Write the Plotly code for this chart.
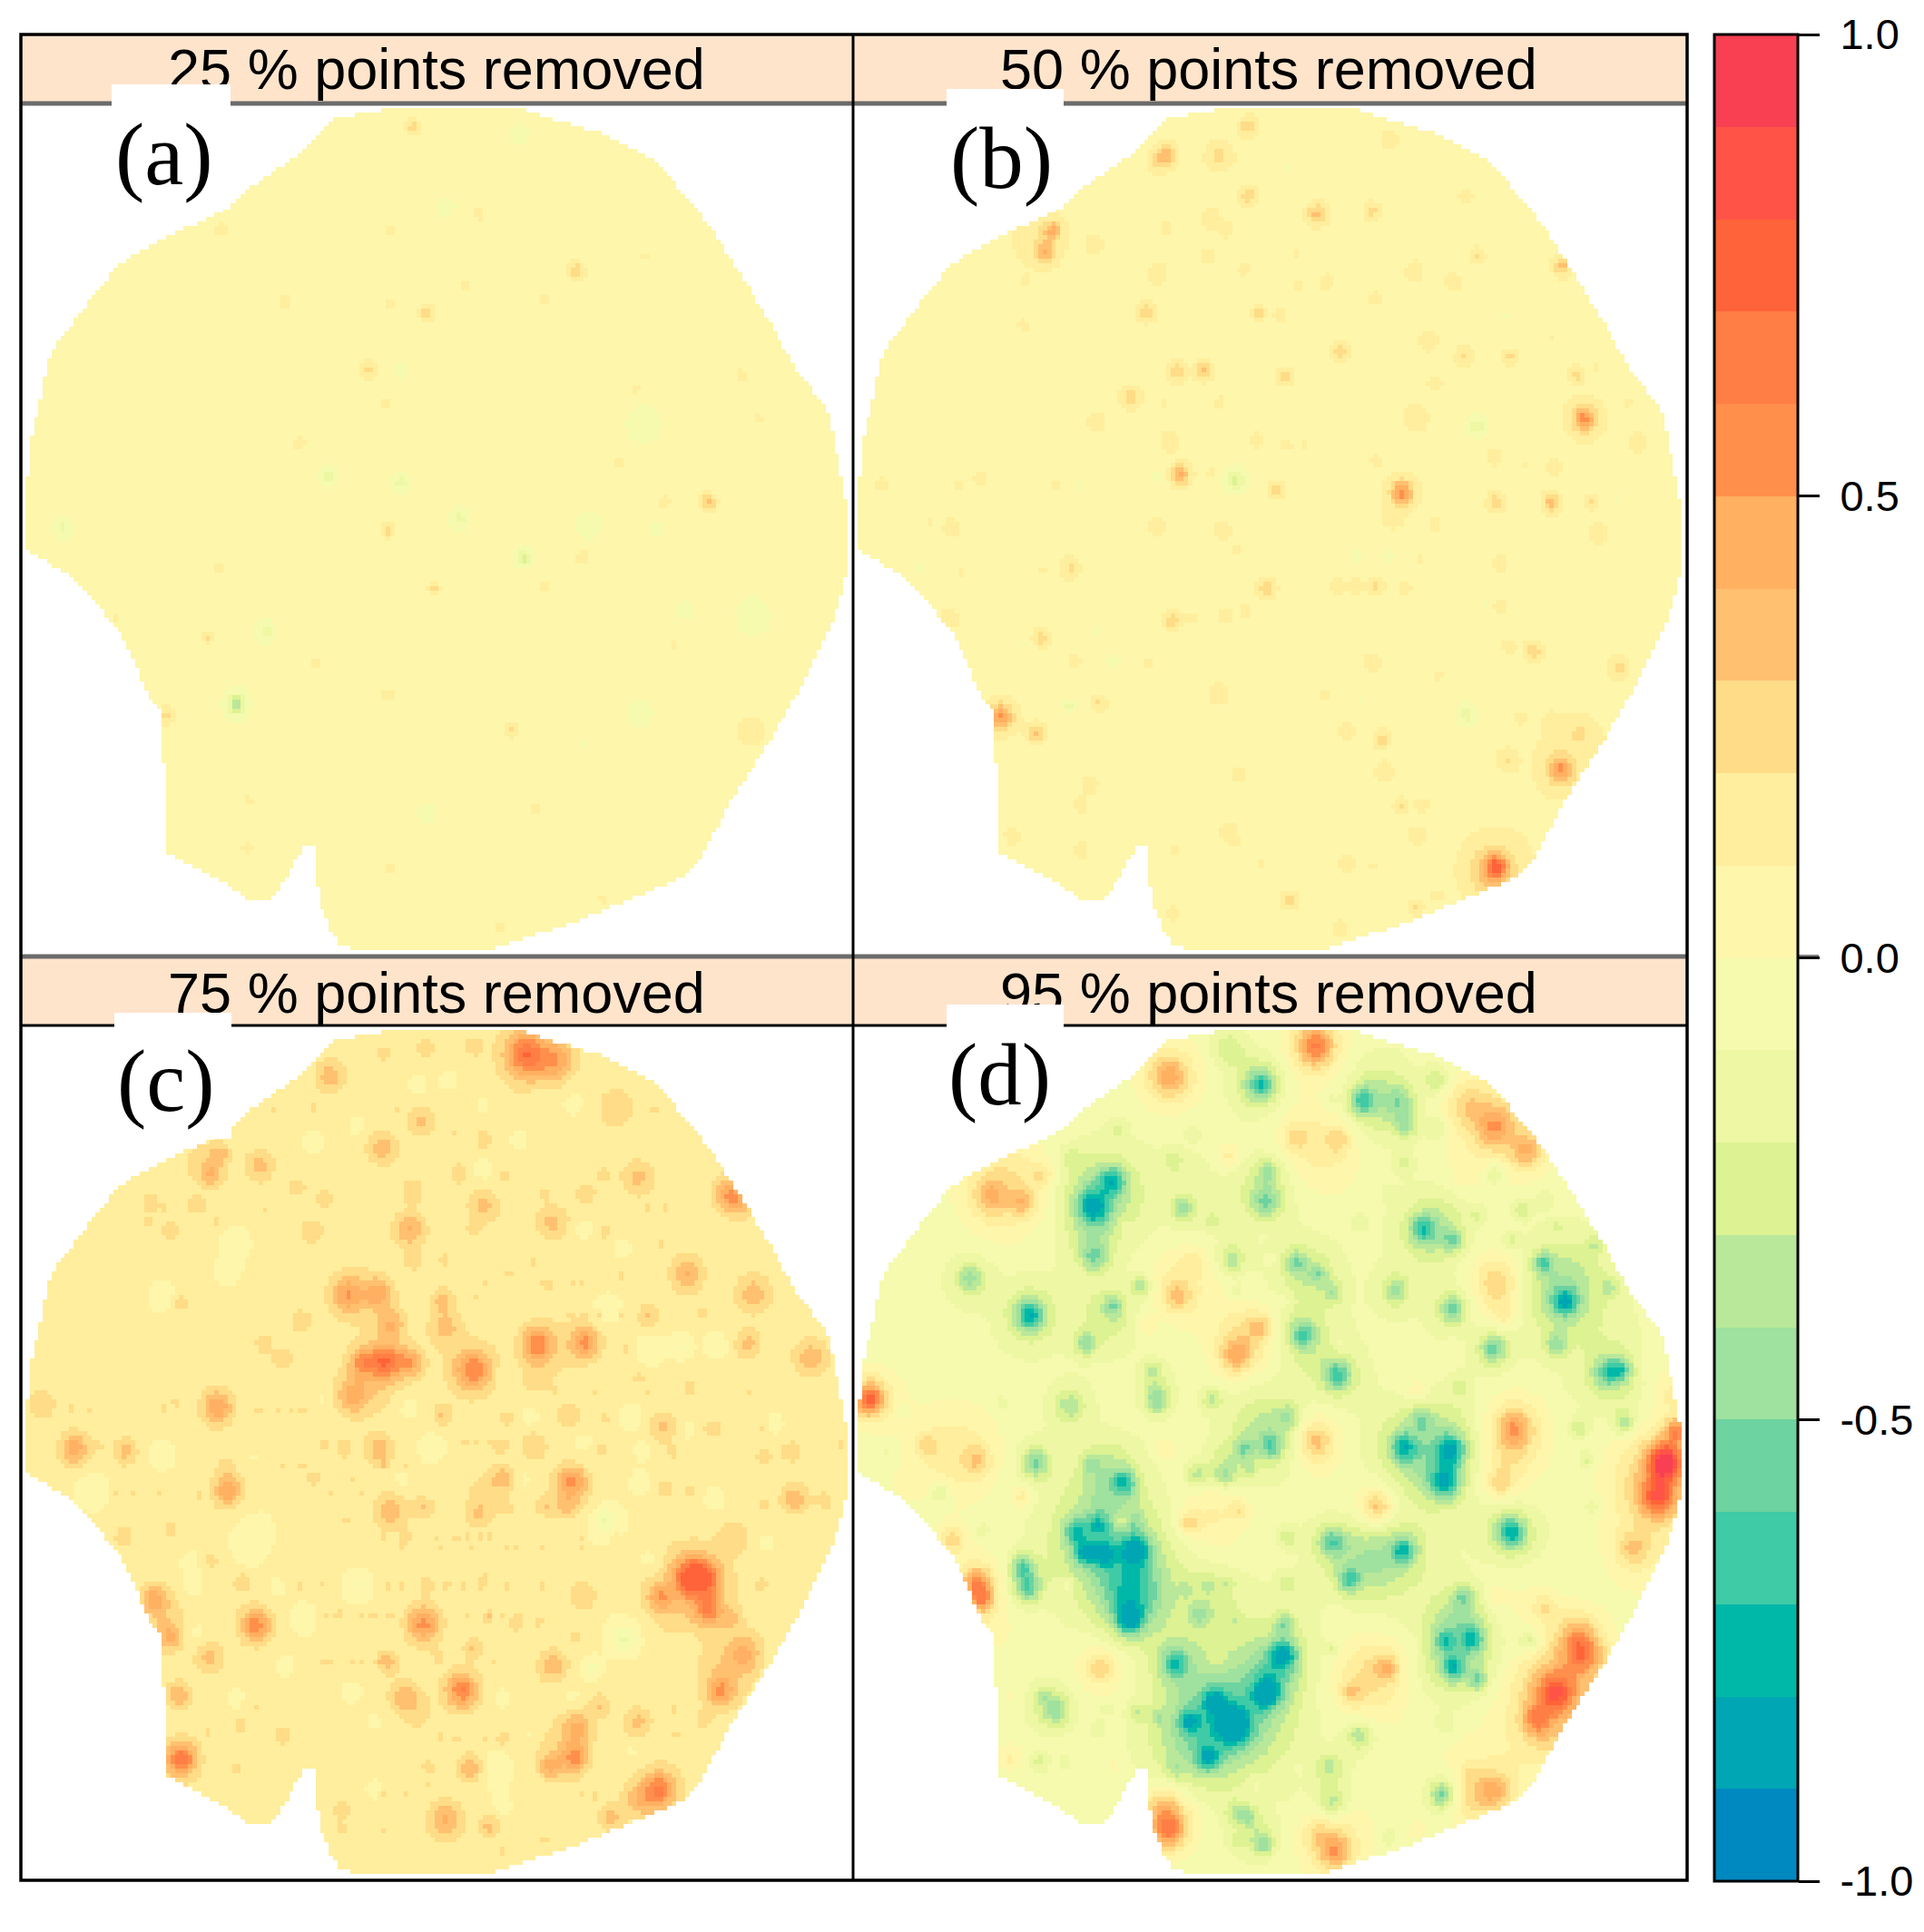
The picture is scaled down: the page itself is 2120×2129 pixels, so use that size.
import numpy as np
import plotly.graph_objects as go

# Colour key: 20 classes of 0.1 from -1.0 to 1.0 (bottom to top)
LEVEL_COLOURS = ["#0088C0", "#00A6B3", "#00B8A8", "#3FCBA5", "#6DD3A0", "#9FE19F", "#B9E89A", "#DDF292", "#EEF7A3", "#F5FAAE",
                 "#FDF6AB", "#FFEE9D", "#FFDC87", "#FFC070", "#FFB060", "#FF8F4B", "#FF7E45", "#FF6339", "#FF5348", "#F84052"]
TICK_VALUES = [-1.0, -0.5, 0.0, 0.5, 1.0]
TICK_LABELS = ["-1.0", "-0.5", "0.0", "0.5", "1.0"]
PANEL_TITLES = ["25 % points removed", "50 % points removed", "75 % points removed", "95 % points removed"]
PANEL_TAGS = ["(a)", "(b)", "(c)", "(d)"]

# Study-area outline
OUTLINE = [(790,147),(945,147),(1000,165),(1100,190),(1190,235),(1270,315),(1340,410),(1400,500),(1450,580),(1505,645),
           (1525,730),(1545,830),(1545,900),(1520,980),(1470,1080),(1400,1190),(1330,1290),(1270,1390),(1240,1415),
           (1150,1450),(1040,1490),(890,1535),(710,1538),(620,1530),(600,1500),(580,1450),(570,1365),(555,1360),
           (530,1400),(495,1450),(450,1450),(400,1420),(305,1375),(305,1300),(295,1200),(290,1140),(270,1120),
           (245,1060),(210,1000),(165,955),(130,920),(50,875),(42,820),(58,690),(75,620),(92,550),(150,480),(215,405),
           (290,365),(400,320),(470,270),(540,225),(610,165),(700,150)]

# Anomalies: (x, y, value, spread)
BASE_A = 0.05
SPOTS_A = [(752,178,.3,7),(402,348,.12,8),(712,350,.15,5),(1048,415,.3,9),(775,485,.3,8),(518,467,.2,6),(712,470,.15,5),
 (845,440,.15,5),(670,580,.25,9),(702,633,.2,5),(1155,612,.2,5),(1348,588,.2,6),(1380,660,.15,5),(1125,733,.2,6),
 (1288,798,.42,8),(1208,798,.15,7),(705,843,.3,7),(1060,888,.2,7),(790,938,.35,6),(990,935,.15,6),(378,1020,.22,6),
 (705,1115,.2,6),(930,1173,.25,7),(302,1150,.25,9),(1365,1175,.22,14),(972,1303,.18,6),(450,1365,.15,6),(912,1495,.2,5),
 (1095,1450,.15,5),(452,1290,.2,4),(575,1060,.15,6),(210,990,.15,5),(870,322,.12,8),(1175,390,.15,4),(990,462,.12,5),
 (545,700,.15,7),(400,905,.15,6),(1225,1033,.15,5),(712,1400,.12,6),
 (953,887,-.4,6),(953,887,-.07,20),(430,1130,-.5,8),(430,1130,-.1,22),(483,1010,-.25,6),(483,1010,-.07,22),(115,840,-.2,5),
 (115,840,-.07,20),(835,825,-.18,8),(835,825,-.07,18),(595,755,-.2,7),(595,755,-.07,16),(730,765,-.18,8),(730,765,-.07,16),
 (1070,835,-.12,15),(1195,840,-.12,10),(1370,985,-.1,25),(1170,670,-.1,25),(730,580,-.07,16),(810,310,-.07,18),
 (945,190,-.08,16),(885,260,-.07,14),(650,225,-.06,14),(1165,1145,-.08,22),(1060,1195,-.08,14),(775,1310,-.07,18),
 (1245,975,-.07,18),(1305,600,-.07,14),(620,635,-.07,12),(445,770,-.06,14),(1225,1215,-.07,14),(860,940,-.06,14)]

BASE_B = 0.055
SPOTS_B = [(378,350,.4,8),(365,385,.35,8),(355,365,.12,30),(575,232,.35,10),(590,222,.25,8),(680,227,.25,12),(733,178,.3,8),
 (733,292,.3,8),(857,323,.38,9),(958,318,.28,7),(665,330,.2,8),(692,348,.2,6),(585,347,.12,6),(455,373,.15,8),(990,200,.18,8),
 (1128,292,.2,6),(1150,390,.25,6),(1303,407,.4,8),(1035,415,.18,8),(1105,435,.15,8),(875,433,.2,6),(825,440,.12,5),(965,462,.2,5),
 (570,420,.2,8),(725,412,.12,6),(660,390,.12,8),(820,387,.12,4),(548,483,.32,8),(752,485,.25,6),(790,487,.2,5),(325,505,.15,5),
 (327,433,.12,5),(900,548,.3,8),(1060,532,.2,8),(1125,557,.22,8),(1208,557,.22,7),(1285,527,.12,4),(604,582,.32,8),(652,580,.38,8),
 (800,590,.25,7),(1072,600,.15,7),(1330,587,.25,7),(1365,575,.12,4),(520,625,.3,9),(580,632,.15,4),(682,632,.15,5),(1038,658,.15,12),
 (458,665,.2,8),(1343,660,.5,9),(1343,660,.15,22),(1422,632,.15,4),(1440,697,.2,8),(590,697,.2,8),(748,695,.2,6),(803,703,.15,5),
 (835,705,.12,4),(965,730,.12,6),(1180,723,.2,7),(1288,740,.2,6),(1235,735,.1,4),(610,752,.5,9),(665,750,.15,4),(783,778,.3,7),
 (1012,782,.55,9),(1012,782,.12,20),(1183,798,.3,8),(1283,798,.45,8),(1358,798,.22,6),(1368,850,.18,8),(68,768,.15,6),(205,770,.12,5),
 (247,760,.15,6),(385,770,.15,6),(195,840,.2,7),(155,830,.12,4),(568,838,.2,6),(687,843,.15,8),(995,825,.12,10),(1072,835,.12,7),
 (410,905,.22,9),(360,910,.12,4),(212,910,.12,4),(712,873,.12,5),(1190,898,.2,6),(767,938,.35,8),(897,935,.22,6),(965,935,.25,7),
 (930,935,.12,8),(1018,938,.12,7),(1045,890,.1,4),(595,992,.3,8),(630,988,.15,5),(692,985,.2,6),(727,978,.18,5),(357,1020,.3,7),
 (190,990,.15,9),(418,1058,.18,5),(552,1060,.1,6),(1190,967,.15,6),(958,1060,.15,8),(1207,1035,.2,6),(1250,1042,.3,8),(1078,1082,.15,4),
 (1405,1070,.25,9),(680,1112,.18,9),(870,1115,.15,5),(462,1128,.22,7),(285,1150,.42,9),(285,1150,.15,20),(348,1178,.35,8),(912,1175,.15,8),
 (975,1188,.3,7),(1225,1153,.15,5),(1285,1160,.15,6),(1333,1178,.22,7),(1203,1223,.2,9),(1300,1238,.4,9),(1300,1238,.15,22),(715,1245,.15,7),
 (980,1240,.15,9),(445,1262,.2,7),(430,1295,.12,8),(305,1347,.15,7),(430,1370,.1,10),(1010,1298,.25,6),(1048,1298,.22,6),(1040,1347,.22,7),
 (697,1340,.18,8),(712,1358,.15,4),(912,1392,.15,7),(960,1395,.1,5),(1183,1398,.7,9),(1175,1405,.25,28),(808,1452,.28,7),(1037,1465,.22,7),
 (1075,1445,.15,5),(900,1500,.12,9),(595,1475,.12,7),(755,1390,.1,5),(600,1370,.1,4),(1330,1200,.06,60),(1200,1395,.05,50),
 (710,762,-.3,9),(710,762,-.06,18),(568,755,-.18,6),(1148,672,-.25,7),(1148,672,-.05,18),(928,885,-.18,6),(988,887,-.15,5),
 (1130,1147,-.22,8),(1130,1147,-.05,18),(408,1132,-.25,6),(488,1060,-.22,6),(138,905,-.15,6),(460,1008,-.15,4),(325,1027,-.12,4),
 (1405,795,-.15,4),(805,245,-.12,5),(455,522,-.08,5),(1200,490,-.1,4),(430,770,-.1,6),(808,825,-.08,5),(940,1122,-.1,5),(1165,965,-.1,5),(670,463,-.08,4)]

BASE_C = 0.13
SPOTS_C = [(955,182,.55,14),(1010,192,.4,14),(965,185,.2,35),(600,218,.22,16),(1120,270,.25,14),(700,180,.15,8),(775,172,.2,8),(860,168,.15,9),
 (400,345,.3,8),(385,380,.3,9),(370,360,.12,22),(472,365,.3,12),(765,292,.3,11),(695,335,.35,12),(880,322,.2,8),(828,310,.12,6),(1160,385,.3,13),
 (1100,380,.15,7),(835,378,.22,8),(918,378,.15,7),(1325,410,.5,12),(1345,430,.3,10),(750,405,.25,9),(540,400,.2,8),(590,420,.2,8),(275,425,.2,8),
 (358,430,.2,8),(395,455,.15,6),(310,470,.22,7),(270,460,.15,6),(880,430,.3,13),(1065,410,.18,10),(990,410,.12,6),(1005,458,.3,13),(745,470,.4,13),
 (568,473,.25,9),(860,468,.15,6),(1100,475,.15,7),(1200,495,.12,6),(350,495,.12,5),(752,520,.22,8),(808,520,.15,6),(1250,543,.4,13),(1130,548,.15,6),
 (970,525,.15,6),(925,543,.15,5),(990,560,.12,6),(1370,575,.35,14),(630,576,.42,13),(690,574,.42,11),(655,578,.12,28),(805,585,.3,9),(865,580,.12,5),
 (330,590,.2,7),(1180,612,.28,9),(1280,605,.12,5),(548,620,.22,9),(712,625,.35,11),(810,630,.3,13),(480,658,.2,8),(515,683,.25,8),(975,658,.4,16),
 (1065,655,.38,15),(1010,660,.1,30),(1360,658,.3,11),(1475,680,.35,14),(1140,665,.15,6),(700,685,.65,12),(660,688,.45,10),(745,688,.45,10),
 (700,695,.12,35),(860,700,.5,14),(860,700,.12,32),(640,745,.35,12),(660,730,.1,30),(975,715,.15,14),(1162,713,.18,6),(1205,720,.1,5),(1255,730,.15,7),
 (395,762,.4,11),(395,762,.1,22),(75,757,.2,13),(320,755,.12,7),(805,775,.25,8),(925,780,.2,6),(1035,775,.25,9),(1100,780,.15,6),(1205,795,.3,11),
 (1295,798,.25,7),(1385,795,.15,5),(135,830,.35,10),(135,830,.1,20),(228,835,.3,10),(180,825,.1,6),(625,830,.2,7),(590,830,.12,5),(690,832,.32,12),
 (910,825,.15,7),(970,825,.25,11),(1095,830,.2,6),(1440,835,.22,8),(1390,845,.15,9),(1530,825,.12,6),(1225,835,.15,6),(410,860,.15,7),(415,898,.4,10),
 (415,900,.1,22),(570,878,.22,6),(640,878,.12,4),(915,878,.32,9),(885,900,.1,24),(1040,882,.42,11),(1040,900,.15,26),(1210,895,.18,8),(1255,900,.18,6),
 (1445,912,.35,11),(1500,915,.15,9),(710,932,.35,13),(770,928,.25,9),(870,938,.22,11),(920,928,.15,6),(990,925,.2,7),(1030,925,.2,8),(1390,925,.15,6),
 (310,962,.18,7),(225,975,.15,11),(520,945,.12,4),(630,950,.12,6),(740,975,.12,7),(1335,975,.2,13),(1260,1040,.6,18),(1290,1045,.35,12),(1200,1075,.4,10),
 (1290,1095,.5,11),(1255,1065,.2,45),(1330,1110,.2,8),(1385,1055,.15,6),(385,1015,.2,7),(280,1078,.45,11),(310,1140,.35,10),(300,1110,.12,24),
 (440,1050,.2,8),(465,1120,.5,11),(465,1120,.1,22),(775,1055,.2,6),(880,1045,.15,6),(1060,1073,.22,12),(820,1050,.1,4),(770,1118,.45,12),(770,1118,.1,24),
 (620,1103,.15,5),(885,1108,.15,5),(940,1115,.2,7),(980,1115,.15,5),(680,1103,.1,4),(860,1158,.25,8),(380,1172,.3,12),(1045,1138,.15,6),(705,1180,.3,9),
 (600,1180,.12,5),(795,1168,.12,5),(1005,1187,.35,12),(1130,1190,.12,6),(1355,1165,.35,14),(1310,1230,.45,11),(1320,1200,.15,30),(325,1235,.4,10),
 (840,1227,.55,12),(840,1227,.1,24),(735,1237,.35,12),(760,1265,.1,18),(1090,1252,.25,9),(1160,1280,.3,11),(1225,1258,.12,5),(465,1255,.15,6),
 (437,1285,.18,6),(515,1303,.22,7),(380,1298,.12,5),(1050,1290,.4,12),(1280,1275,.2,7),(1230,1300,.15,5),(915,1307,.2,6),(330,1340,.6,11),(325,1345,.15,24),
 (1045,1340,.5,11),(1000,1352,.4,9),(1020,1320,.1,30),(855,1355,.4,10),(780,1355,.2,6),(430,1355,.12,9),(1200,1390,.55,12),(1165,1405,.3,12),(1195,1395,.1,35),
 (622,1423,.2,7),(810,1440,.42,14),(890,1450,.3,9),(1110,1437,.3,10),(1055,1400,.1,6),(620,1455,.15,6),(700,1460,.12,5),(915,1490,.15,5),(990,1470,.12,6),(780,1385,.1,6),
 (430,490,-.1,14),(415,540,-.08,14),(295,580,-.08,16),(1060,468,-.12,8),(880,375,-.06,16),(1240,662,-.2,9),(1180,665,-.08,18),(1310,660,-.08,12),(785,828,-.12,12),
 (965,780,-.1,10),(1165,885,-.2,8),(1170,835,-.1,8),(1100,945,-.25,9),(1100,950,-.08,24),(1300,915,-.08,14),(1390,985,-.08,10),(1135,1140,-.25,10),(1135,1140,-.08,24),
 (1075,1190,-.22,8),(355,1135,-.12,10),(520,1187,-.15,7),(550,1110,-.1,14),(460,970,-.08,25),(165,900,-.06,18),(295,840,-.08,15),(960,1300,-.1,6),(680,1280,-.1,6),
 (905,1355,-.1,14),(740,760,-.08,16),(1060,825,-.08,13),(1040,260,-.06,16),(880,260,-.06,14),(570,325,-.07,12),(650,1060,-.1,14),(1190,1020,-.07,12),(1100,600,-.07,14),
 (590,750,-.1,6),(1150,780,-.08,14),(350,1020,-.07,14),(910,1420,-.08,12),(430,1240,-.06,14),(1250,1150,-.08,12),
 (760,232,-.09,9),(815,225,-.09,9),(945,320,-.09,9),(975,260,-.09,9),(650,300,-.09,8),(1130,500,-.09,9),(1110,600,-.09,9),(920,710,-.09,10),(1300,660,-.09,8),
 (1410,790,-.09,9),(1250,800,-.09,8),(950,880,-.09,9),(730,880,-.09,8),(460,850,-.09,7),(170,900,-.1,12),(450,1000,-.1,10),(350,1060,-.08,9),(505,1060,-.1,8),
 (650,1050,-.1,9),(1180,1010,-.1,9),(900,1360,-.1,10),(910,1240,-.09,9),(1040,1240,-.08,10),(1150,1330,-.09,9),(640,1230,-.09,10),(680,1390,-.08,9)]

# Fine rows of faint dots in panel (c): (y, x positions)
ROW_DOTS_C = [(765,[130,165,230,300,470,503,528,550]),(822,[590,846,869,896,919]),(855,[460,515,550,700,740]),(905,[210,240,290,360,600,660]),
              (976,[698,743,795,830,850,875,891,1060,1120]),(991,[730,800,860,920,940,987,1060]),(1056,[545,583,704,731,813,841,875,924,985]),
              (1105,[590,610,655,676,710,853,888,912]),(1180,[590,640,660,690,800,900]),(1305,[800,830,880,950]),(610,[1040,1060,1090,1130,1280]),
              (735,[1010,1080,1180,1310,1360]),(560,[880,1000,1040,1060]),(435,[300,480,1180,1210]),(270,[500,570,720,1190]),(1400,[700,740,1080,1300])]

BASE_D = -0.06
SPOTS_D = [(758,232,-.6,10),(750,230,-.25,26),(697,172,-.3,12),(938,258,-.6,9),(1010,260,-.35,10),(880,257,-.15,7),(970,258,-.25,28),(1020,298,-.4,8),(1075,303,-.25,8),
 (1075,225,-.3,9),(1015,360,-.2,7),(1180,378,-.3,8),(770,372,-.35,8),(765,425,-.4,10),(768,400,-.15,24),(598,357,-.25,7),(630,310,-.15,5),(497,305,-.2,7),(410,350,-.2,7),
 (488,388,-.6,9),(452,432,-.65,11),(465,410,-.3,34),(453,515,-.45,10),(450,480,-.15,24),(615,435,-.45,9),(670,457,-.22,6),(703,520,-.4,9),(712,570,-.2,5),(228,550,-.35,8),
 (228,550,-.15,24),(337,610,-.65,9),(337,610,-.25,26),(540,562,-.45,7),(488,596,-.4,7),(437,657,-.5,8),(480,610,-.2,32),(820,525,-.4,8),(860,543,-.3,6),(888,573,-.35,7),
 (845,540,-.2,28),(1000,570,-.35,8),(1000,570,-.12,24),(1105,600,-.5,9),(1105,600,-.15,26),(832,642,-.55,9),(832,650,-.15,30),(895,710,-.55,9),(895,710,-.2,26),(1178,665,-.5,9),
 (1178,665,-.15,22),(1293,660,-.42,8),(1268,525,-.55,7),(1308,588,-.65,9),(1300,570,-.3,40),(1360,495,-.25,6),(1390,565,-.3,6),(1230,435,-.3,7),(1270,420,-.2,6),(1210,488,-.25,6),
 (1295,463,-.15,4),(1150,445,-.2,6),(1050,470,-.55,9),(1105,487,-.45,7),(1075,470,-.25,30),(935,457,-.2,6),(988,410,-.12,6),(1320,725,-.12,4),(1385,705,-.5,9),(1410,700,-.45,7),
 (1395,705,-.2,26),(1333,797,-.3,7),(1415,787,-.42,8),(1347,848,-.25,6),(1358,925,-.22,6),(1117,727,-.25,6),(1048,782,-.35,7),(1015,828,-.6,9),(1103,833,-.7,10),(1090,885,-.75,11),
 (1060,830,-.35,45),(1210,967,-.7,10),(1210,967,-.25,28),(568,752,-.5,9),(560,700,-.25,7),(565,725,-.15,18),(667,750,-.35,8),(410,760,-.3,9),(410,760,-.12,24),(285,755,-.15,5),
 (105,768,-.12,5),(347,853,-.45,8),(347,853,-.15,22),(175,903,-.3,7),(250,965,-.2,5),(447,852,-.3,6),(508,885,-.55,8),(480,870,-.25,28),(807,778,-.35,8),(775,825,-.45,8),(725,830,-.35,7),
 (640,873,-.4,8),(690,873,-.3,7),(735,865,-.2,5),(770,805,-.25,36),(690,860,-.2,20),(420,965,-.55,8),(460,955,-.45,7),(435,1000,-.6,8),(470,1003,-.6,8),(530,997,-.7,10),(480,985,-.35,50),
 (505,950,.3,7),(525,950,-.2,6),(323,1023,-.5,8),(333,1063,-.45,8),(328,1045,-.3,18),(518,1112,-.7,9),(518,1090,-.3,28),(530,1050,-.2,30),(805,975,-.3,7),(885,982,-.45,9),(1015,997,-.6,8),
 (917,1047,-.55,8),(955,1010,-.25,35),(1015,1000,-.15,28),(885,990,-.15,24),(805,1050,-.25,7),(695,1050,-.2,5),(660,1052,-.15,6),(620,1060,-.12,5),(645,1103,-.3,6),(710,1115,-.12,4),
 (660,1080,-.1,30),(800,1120,-.4,7),(798,1167,-.65,9),(767,1233,-.75,10),(707,1285,-.85,11),(672,1245,-.55,8),(625,1278,-.5,7),(660,1340,-.6,8),(600,1360,-.2,7),(600,1182,-.5,9),
 (600,1182,-.2,24),(785,1190,-.3,25),(720,1260,-.35,50),(640,1300,-.35,45),(530,1263,-.3,6),(570,1272,-.25,5),(460,1290,-.2,5),(475,1258,-.15,5),(385,1260,-.35,9),(360,1235,-.25,6),
 (375,1255,-.2,22),(885,1160,-.25,5),(1125,1073,-.4,7),(1140,1142,-.5,8),(1090,1145,-.45,7),(1105,1190,-.6,8),(1150,1210,-.45,7),(1115,1160,-.3,38),(1120,1100,-.15,24),(1243,1147,-.3,6),
 (1243,1147,-.1,20),(935,1302,-.35,8),(935,1302,-.1,20),(1090,1285,-.2,7),(880,1352,-.3,10),(885,1413,-.35,9),(885,1390,-.1,24),(1085,1398,-.5,8),(1085,1398,-.2,22),(355,1345,-.25,6),
 (400,1345,-.12,4),(710,1428,-.3,7),(733,1433,-.3,6),(762,1480,-.45,7),(740,1460,-.2,22),(712,1475,-.15,4),(988,1468,-.2,6),(805,1392,-.12,4),(75,835,-.1,6),(1373,1055,-.1,4),
 (855,168,.6,13),(855,165,.25,30),(590,218,.45,14),(590,218,.2,34),(1240,340,.5,12),(1180,300,.35,18),(1130,265,.3,14),(1190,300,.12,50),(820,318,.25,9),(897,322,.3,9),(860,340,.12,40),
 (697,347,.3,9),(1120,385,.1,10),(265,415,.35,12),(325,425,.35,9),(360,380,.25,8),(290,400,.2,40),(635,522,.2,8),(605,580,.35,10),(610,550,.12,30),(545,627,.2,8),(505,465,.1,7),(755,628,.35,9),
 (710,678,.5,11),(730,650,.2,30),(800,585,.12,7),(900,658,.12,6),(775,518,.1,5),(757,482,.08,4),(1185,555,.25,14),(1200,610,.2,8),(1185,570,.12,34),(1105,665,.1,7),(1035,735,.15,8),
 (1215,798,.42,12),(1215,798,.2,30),(1190,888,.3,9),(1200,860,.1,24),(855,818,.3,10),(855,818,.15,26),(580,830,.2,8),(150,825,.28,8),(242,850,.32,10),(200,835,.12,42),(45,750,.6,9),(45,745,.3,20),
 (323,907,.3,8),(195,980,.4,10),(240,1050,.45,10),(250,1080,.5,8),(245,1065,.25,22),(275,1130,.15,12),(110,890,.12,10),(405,1055,.2,6),(625,952,.35,8),(718,930,.25,7),(670,940,.1,30),(968,925,.35,9),
 (968,925,.15,22),(1475,910,.7,12),(1490,850,.8,16),(1510,800,.7,9),(1430,995,.35,11),(1480,880,.3,38),(1500,740,.25,12),(1465,690,.12,14),(1045,735,.12,6),(890,1110,.12,8),(677,1180,.1,7),
 (465,1190,.25,9),(465,1190,.1,24),(985,1188,.4,9),(920,1232,.3,8),(955,1205,.2,35),(1030,1150,.1,10),(1180,1073,.15,6),(1272,1090,.3,9),(1340,1165,.65,14),(1330,1130,.35,14),(1290,1232,.7,13),
 (1255,1275,.5,10),(1300,1215,.3,50),(1275,1300,.12,20),(300,1338,.25,9),(490,1352,.18,5),(300,1235,.1,8),(1180,1392,.4,11),(1140,1400,.2,22),(1135,1360,.12,7),(590,1460,.55,11),(580,1420,.35,14),
 (590,1440,.2,25),(890,1492,.45,11),(855,1460,.2,10),(885,1480,.18,28),(1040,1455,.18,6),(940,1440,.1,6),(745,1382,.12,6),(825,1355,.08,5),
 # broad warm zones
 (860,320,.1,50),(620,560,.1,45),(730,640,.1,40),(1190,570,.1,40),(1215,800,.1,40),(1190,880,.08,35),(850,820,.1,35),(200,840,.1,45),(300,400,.1,50),(960,925,.1,35),(670,940,.08,40),
 (960,1200,.1,45),(465,1190,.08,30),(1040,740,.08,35),(1280,1250,.15,60),(1480,880,.15,60),(1450,1000,.12,40),(1180,1390,.12,45),(590,1450,.12,30),(890,1480,.1,35),(240,1050,.1,35),
 (1200,1080,.1,35),(60,750,.12,30),(1180,290,.12,50),(1100,1380,.06,60),(760,1150,.0,10),
 # broad cool zones
 (450,430,-.1,50),(460,970,-.1,60),(530,1080,-.1,50),(650,1100,-.1,50),(720,1260,-.08,70),(760,800,-.07,40),(800,1140,-.1,40),(1060,830,-.08,70),(1120,1150,-.1,60),(950,1020,-.08,50),
 (1300,570,-.08,60),(1050,470,-.08,40),(970,260,-.08,50),(770,400,-.08,40),(830,620,-.07,50),(1400,720,-.08,50),(700,500,-.05,60),(600,400,-.05,60),(340,610,-.04,50)]

PANELS = [(BASE_A, SPOTS_A, (38, 140), 1.25, 0.7, 0.5), (BASE_B, SPOTS_B, (16, 140), 1.45, 0.72, 0.72),
          (BASE_C, SPOTS_C, (38, 134), 1.6, 0.68, 0.72), (BASE_D, SPOTS_D, (16, 134), 1.75, 0.72, 0.92)]

W, H = 1514, 1405
gx = np.arange(4, W, 8.0)
gy = np.arange(3.75, H, 7.5)
X, Y = np.meshgrid(gx, gy)


def inside(poly, X, Y):
    px = np.array([p[0] for p in poly], float)
    py = np.array([p[1] for p in poly], float)
    res = np.zeros(X.shape, bool)
    for i in range(len(px)):
        j = i - 1
        cond = (py[i] > Y) != (py[j] > Y)
        xc = (px[j] - px[i]) * (Y - py[i]) / (py[j] - py[i] + 1e-9) + px[i]
        res ^= cond & (X < xc)
    return res


mask = inside([(u - 38, v - 140) for u, v in OUTLINE], X, Y)


def field(base, spots, origin, widen, gain, top):
    z = np.full(X.shape, float(base))
    for u, v, val, s in spots:
        small = s < 15
        sg = s * widen if small else s * (1 + (widen - 1) * 0.4)
        amp = val * gain if small else val
        z += amp * np.exp(-((X - (u - origin[0])) ** 2 + (Y - (v - origin[1])) ** 2) / (2 * sg * sg))
    z = np.clip(z, -0.85, top)
    z[~mask] = np.nan
    return z


PW, PH = 2120, 2129
pl = [(23, 940, 114, 1054), (940, 1859, 114, 1054), (23, 940, 1130, 2072), (940, 1859, 1130, 2072)]
n = len(LEVEL_COLOURS)
scale = []
for i, c in enumerate(LEVEL_COLOURS):
    scale += [[i / n, c], [(i + 1) / n, c]]

fig = go.Figure()
layout = dict(width=PW, height=PH, margin=dict(l=0, r=0, t=0, b=0, pad=0), paper_bgcolor="white", plot_bgcolor="rgba(0,0,0,0)",
              showlegend=False)
for k, (base, spots, origin, widen, gain, top) in enumerate(PANELS):
    ax = k + 1
    x0, x1, y0, y1 = pl[k]
    if k == 2:
        spots = spots + [(u, v, 0.17, 3) for v, us in ROW_DOTS_C for u in us]
    layout[f"xaxis{ax}"] = dict(domain=[x0 / PW, x1 / PW], range=[0, W], visible=False, fixedrange=True, anchor=f"y{ax}")
    layout[f"yaxis{ax}"] = dict(domain=[1 - y1 / PH, 1 - y0 / PH], range=[H, 0], visible=False, fixedrange=True, anchor=f"x{ax}")
    tr = dict(x=gx, y=gy, z=field(base, spots, origin, widen, gain, top), zmin=-1, zmax=1, colorscale=scale, xaxis=f"x{ax}", yaxis=f"y{ax}",
              hoverinfo="skip", showscale=(k == 0), zsmooth=False)
    if k == 0:
        tr["colorbar"] = dict(x=1889 / PW, xanchor="left", xpad=0, y=1 - 38 / PH, yanchor="top", ypad=0, lenmode="pixels", len=2035,
                              thicknessmode="pixels", thickness=92, outlinecolor="black", outlinewidth=3, ticks="outside", ticklen=23,
                              tickwidth=3, tickcolor="black", tickvals=TICK_VALUES, ticktext=["\u00a0" + t for t in TICK_LABELS],
                              tickfont=dict(family="Liberation Sans", size=47, color="black"))
    fig.add_trace(go.Heatmap(**tr))

# Overlay axes measured in page pixels, for strips, frames and strip titles
layout["xaxis5"] = dict(domain=[0, 1], range=[0, PW], visible=False, fixedrange=True, anchor="y5")
layout["yaxis5"] = dict(domain=[0, 1], range=[PH, 0], visible=False, fixedrange=True, anchor="x5")
fig.add_trace(go.Scatter(x=[481, 1398, 481, 1398], y=[82, 82, 1100, 1100], text=PANEL_TITLES, mode="text", xaxis="x5", yaxis="y5",
                         textposition="middle center", cliponaxis=False, hoverinfo="skip",
                         textfont=dict(family="Liberation Sans", size=63, color="black")))


def rect(x0, y0, x1, y1, fill=None, line=None, w=0, layer="above"):
    return dict(type="rect", xref="x5", yref="y5", x0=x0, y0=y0, x1=x1, y1=y1, fillcolor=fill or "rgba(0,0,0,0)",
                line=dict(color=line or "rgba(0,0,0,0)", width=w), layer=layer)


def seg(x0, y0, x1, y1, c, w):
    return dict(type="line", xref="x5", yref="y5", x0=x0, y0=y0, x1=x1, y1=y1, line=dict(color=c, width=w), layer="above")


STRIP = "#FFE4CC"
shapes = [rect(23, 38, 1859, 112, fill=STRIP, layer="below"), rect(23, 1056, 1859, 1130, fill=STRIP, layer="below"),
          seg(23, 114, 1859, 114, "#6b6b6b", 5), seg(23, 1054, 1859, 1054, "#6b6b6b", 5), seg(23, 1130, 1859, 1130, "black", 3),
          seg(940, 38, 940, 2072, "black", 3), rect(23, 38, 1859, 2072, line="black", w=3.5),
          rect(1888, 38, 1894, 2073, fill="rgba(40,40,40,0.9)"), seg(1981, 1054, 2004, 1054, "#7f7f7f", 4),
          rect(123, 93, 254, 231, fill="white"), rect(1043, 98, 1172, 231, fill="white"),
          rect(126, 1116, 255, 1255, fill="white"), rect(1043, 1107, 1172, 1245, fill="white")]
layout["shapes"] = shapes
tag_xy = [(181, 170), (1103, 174), (183, 1191), (1101, 1184)]
layout["annotations"] = [dict(xref="x5", yref="y5", x=x, y=y, text=t, showarrow=False, xanchor="center", yanchor="middle",
                              font=dict(family="Liberation Serif", size=97, color="black")) for (x, y), t in zip(tag_xy, PANEL_TAGS)]
fig.update_layout(**layout)
fig.write_html("out.html", config={"displayModeBar": False}, post_script="document.body.style.margin='0';")
